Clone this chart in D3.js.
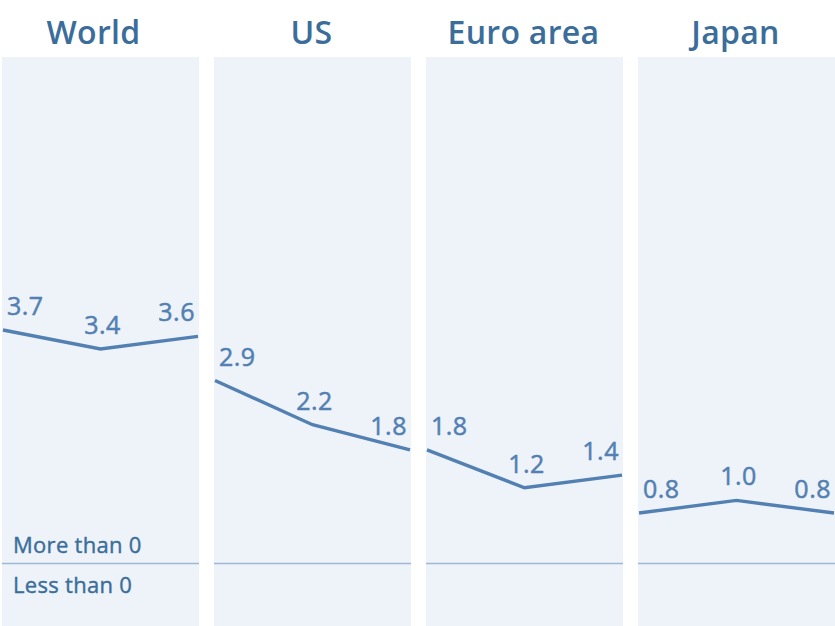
<!DOCTYPE html>
<html>
<head>
<meta charset="utf-8">
<script src="https://cdn.jsdelivr.net/npm/d3@7"></script>
<style>
  html, body { margin: 0; padding: 0; background: #ffffff; }
  svg { display: block; font-family: "Open Sans", "Noto Sans", sans-serif; }
</style>
</head>
<body>
<div id="main_output"></div>
<script>
// growth forecasts, three points per panel
const regions = ["World", "US", "Euro area", "Japan"];
const periods = ["p1", "p2", "p3"];
const worldValues = [3.7, 3.4, 3.6];
const usValues = [2.9, 2.2, 1.8];
const euroValues = [1.8, 1.2, 1.4];
const japanValues = [0.8, 1.0, 0.8];
const zeroLabels = ["More than 0", "Less than 0"];

const series = [worldValues, usValues, euroValues, japanValues];

const titleColour = "#3b6d9b";
const lineColour = "#5280b2";
const panelColour = "#eef3fa";
const zeroColour = "#9fb8d5";

const width = 835, height = 626;
const panelTop = 57;

var svg = d3.select("#main_output").append("svg")
    .attr("width", width)
    .attr("height", height);

const x = d3.scaleBand().domain(regions).range([2, 835]).paddingInner(0.0708).paddingOuter(0);
const y = d3.scaleLinear().domain([0, 4]).range([563.5, 563.5 - 4 * 63.1]);

regions.forEach(function(name, k) {
  var left = x(name), bw = x.bandwidth();
  var g = svg.append("g").attr("class", "panel");

  g.append("rect")
    .attr("x", left)
    .attr("y", panelTop)
    .attr("width", bw)
    .attr("height", height - panelTop)
    .attr("fill", panelColour);

  g.append("text")
    .attr("x", left + bw / 2 - (k === 0 ? 7 : 1))
    .attr("y", 44)
    .attr("text-anchor", "middle")
    .attr("font-size", "32px")
    .attr("font-weight", 600)
    .attr("letter-spacing", "0.3px")
    .attr("fill", titleColour)
    .text(name);

  g.append("line")
    .attr("x1", left)
    .attr("x2", left + bw)
    .attr("y1", y(0))
    .attr("y2", y(0))
    .attr("stroke", zeroColour)
    .attr("stroke-width", 1.5);

  var px = d3.scalePoint().domain(periods).range([left + 1, left + bw - 1]);
  var vals = series[k];

  var line = d3.line()
    .x(function(d, i) { return px(periods[i]); })
    .y(function(d) { return y(d); });

  g.append("path")
    .datum(vals)
    .attr("fill", "none")
    .attr("stroke", lineColour)
    .attr("stroke-width", 3.4)
    .attr("d", line);

  g.selectAll(".val")
    .data(vals)
    .enter()
    .append("text")
    .attr("class", "val")
    .attr("x", function(d, i) {
      if (i === 0) return left + 5;
      if (i === 2) return left + bw - 4;
      return px(periods[i]) + 2;
    })
    .attr("y", function(d) { return y(d) - 15; })
    .attr("text-anchor", function(d, i) { return i === 0 ? "start" : (i === 2 ? "end" : "middle"); })
    .attr("font-size", "25px")
    .attr("letter-spacing", "0.5px")
    .attr("fill", lineColour)
    .attr("stroke", lineColour)
    .attr("stroke-width", 0.5)
    .text(function(d) { return d.toFixed(1); });
});

// above/below zero notes in first panel
svg.selectAll(".zero-note")
  .data(zeroLabels)
  .enter()
  .append("text")
  .attr("class", "zero-note")
  .attr("x", 13)
  .attr("y", function(d, i) { return i === 0 ? y(0) - 10.5 : y(0) + 29.5; })
  .attr("font-size", "22px")
  .attr("letter-spacing", "0.3px")
  .attr("fill", titleColour)
  .attr("stroke", titleColour)
  .attr("stroke-width", 0.4)
  .text(function(d) { return d; });
</script>
</body>
</html>
